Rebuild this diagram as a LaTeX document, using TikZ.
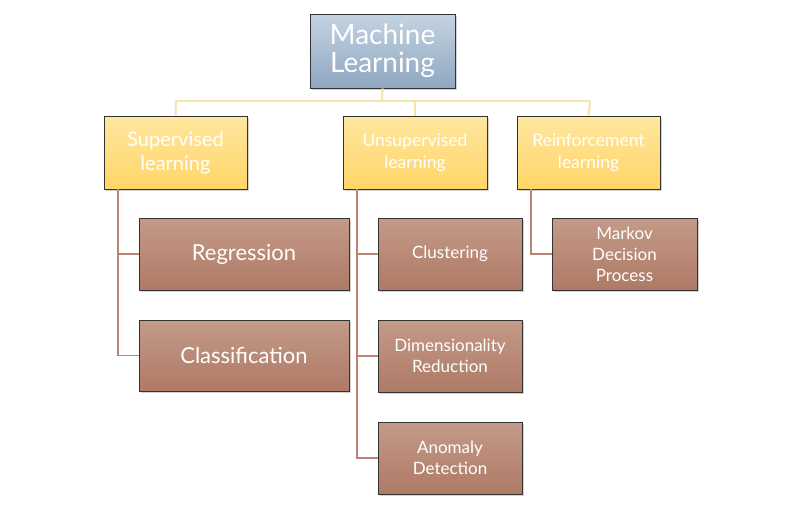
\documentclass[tikz,border=0pt]{standalone}
\usepackage{fontspec}
\setmainfont{Lato}
\usetikzlibrary{shadows}
\definecolor{mlA}{HTML}{C4D3E2}\definecolor{mlB}{HTML}{8FA7C0}
\definecolor{yA}{HTML}{FFE7A0}\definecolor{yB}{HTML}{FFD566}
\definecolor{bA}{HTML}{C49A88}\definecolor{bB}{HTML}{AE7A66}
\definecolor{yline}{HTML}{F8E3A8}\definecolor{bline}{HTML}{B98474}
\begin{document}
\begin{tikzpicture}[x=1pt,y=-1pt,
  box/.style={draw=black!80,line width=0.8pt,align=center,text=white,inner sep=0pt,drop shadow={opacity=0.35,shadow xshift=2pt,shadow yshift=-2pt}},
  ml/.style={box,top color=mlA,bottom color=mlB,font=\fontsize{28}{30}\selectfont},
  cat/.style={box,top color=yA,bottom color=yB,minimum width=143pt,minimum height=73pt},
  leaf/.style={box,top color=bA,bottom color=bB,minimum height=72pt},
  yl/.style={draw=yline,line width=2pt},
  bl/.style={draw=bline,line width=1.5pt}]
\fill[white] (0,0) rectangle (802,504);
\coordinate (hL) at (176,101); \coordinate (hR) at (590,101);
\coordinate (hM) at (382,101); \coordinate (hU) at (415,101);
\draw[yl] (hL) -- (hR);
\node[ml,minimum width=145pt,minimum height=74pt] (ml) at (382.5,51) {Machine\\[-2pt]Learning};
\draw[yl] (ml.south) -- (hM);
\node[cat,font=\fontsize{20}{24}\selectfont] (sup) at (175.5,152.5) {Supervised\\learning};
\node[cat,minimum width=144pt,font=\fontsize{17.5}{22}\selectfont] (uns) at (415,152.5) {Unsupervised\\learning};
\node[cat,font=\fontsize{17.5}{22}\selectfont] (rei) at (588.5,152.5) {Reinforcement\\learning};
\draw[yl] (hL) -- (sup.north); \draw[yl] (hU) -- (uns.north); \draw[yl] (hR) -- (rei.north);
\node[leaf,minimum width=210pt,font=\fontsize{22}{26}\selectfont] (reg) at (244,254) {Regression};
\node[leaf,minimum width=210pt,minimum height=71pt,font=\fontsize{22}{26}\selectfont] (cla) at (244,355.5) {Classification};
\node[leaf,minimum width=144pt,font=\fontsize{17}{21}\selectfont] (clu) at (450,254) {Clustering};
\node[leaf,minimum width=144pt,font=\fontsize{17}{21}\selectfont] (dim) at (450,356) {Dimensionality\\Reduction};
\node[leaf,minimum width=144pt,font=\fontsize{17}{21}\selectfont] (ano) at (450,458) {Anomaly\\Detection};
\node[leaf,minimum width=145pt,font=\fontsize{17}{21}\selectfont] (mar) at (624.5,254) {Markov\\Decision\\Process};
\coordinate (s0) at (118,189); \coordinate (s1) at (118,254); \coordinate (s2) at (118,355.5);
\draw[bl] (s0) -- (s2) -- (cla.west); \draw[bl] (s1) -- (reg.west);
\coordinate (u0) at (357,189); \coordinate (u1) at (357,254); \coordinate (u2) at (357,356); \coordinate (u3) at (357,458);
\draw[bl] (u0) -- (u3) -- (ano.west); \draw[bl] (u1) -- (clu.west); \draw[bl] (u2) -- (dim.west);
\coordinate (r0) at (531,189); \coordinate (r1) at (531,254);
\draw[bl] (r0) -- (r1) -- (mar.west);
\end{tikzpicture}
\end{document}
